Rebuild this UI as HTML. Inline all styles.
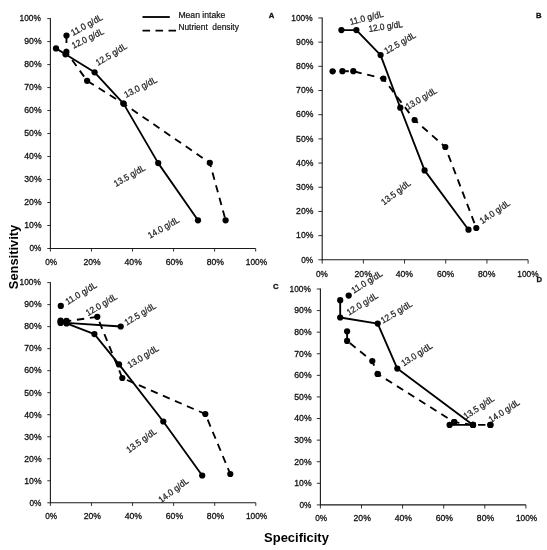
<!DOCTYPE html>
<html><head><meta charset="utf-8"><title>Sensitivity vs Specificity</title>
<style>
html,body{margin:0;padding:0;background:#fff;}
svg{display:block;font-family:"Liberation Sans", sans-serif;}
.ax{fill:none;stroke:#1a1a1a;stroke-width:1.1;}
.tk{fill:none;stroke:#1a1a1a;stroke-width:0.9;}
.sl{fill:none;stroke:#000;stroke-width:1.85;stroke-linejoin:round;}
.dl{fill:none;stroke:#000;stroke-width:1.85;stroke-dasharray:7.4 5.7;}
.tl{font-size:9.0px;fill:#111;stroke:#111;stroke-width:0.3;}
.lb{font-size:9.0px;fill:#222;stroke:#222;stroke-width:0.25;}
.lg{font-size:8.8px;fill:#111;stroke:#111;stroke-width:0.2;}
.pn{font-size:7.7px;font-weight:bold;fill:#111;stroke:#111;stroke-width:0.3;}
.at{font-size:12.6px;font-weight:bold;fill:#000;}
circle{fill:#000;}
</style></head>
<body>
<svg width="547" height="550" viewBox="0 0 547 550">
<rect width="547" height="550" fill="#fff"/>
<g id="panelA">
<path d="M50.4 18.20V248.5H255.7" class="ax"/>
<path d="M47.30 248.50H50.4M47.30 225.51H50.4M47.30 202.52H50.4M47.30 179.53H50.4M47.30 156.54H50.4M47.30 133.55H50.4M47.30 110.56H50.4M47.30 87.57H50.4M47.30 64.58H50.4M47.30 41.59H50.4M47.30 18.60H50.4M50.40 248.5V251.60M91.46 248.5V251.60M132.52 248.5V251.60M173.58 248.5V251.60M214.64 248.5V251.60M255.70 248.5V251.60" class="tk"/>
<text x="41.30" y="251.30" text-anchor="end" class="tl" textLength="11.9" lengthAdjust="spacingAndGlyphs">0%</text>
<text x="41.60" y="228.31" text-anchor="end" class="tl" textLength="17.3" lengthAdjust="spacingAndGlyphs">10%</text>
<text x="41.60" y="205.32" text-anchor="end" class="tl" textLength="17.3" lengthAdjust="spacingAndGlyphs">20%</text>
<text x="41.60" y="182.33" text-anchor="end" class="tl" textLength="17.3" lengthAdjust="spacingAndGlyphs">30%</text>
<text x="41.60" y="159.34" text-anchor="end" class="tl" textLength="17.3" lengthAdjust="spacingAndGlyphs">40%</text>
<text x="41.60" y="136.35" text-anchor="end" class="tl" textLength="17.3" lengthAdjust="spacingAndGlyphs">50%</text>
<text x="41.60" y="113.36" text-anchor="end" class="tl" textLength="17.3" lengthAdjust="spacingAndGlyphs">60%</text>
<text x="41.60" y="90.37" text-anchor="end" class="tl" textLength="17.3" lengthAdjust="spacingAndGlyphs">70%</text>
<text x="41.60" y="67.38" text-anchor="end" class="tl" textLength="17.3" lengthAdjust="spacingAndGlyphs">80%</text>
<text x="41.60" y="44.39" text-anchor="end" class="tl" textLength="17.3" lengthAdjust="spacingAndGlyphs">90%</text>
<text x="40.80" y="21.40" text-anchor="end" class="tl" textLength="21.3" lengthAdjust="spacingAndGlyphs">100%</text>
<text x="51.10" y="264.55" text-anchor="middle" class="tl" textLength="11.9" lengthAdjust="spacingAndGlyphs">0%</text>
<text x="92.16" y="264.55" text-anchor="middle" class="tl" textLength="17.3" lengthAdjust="spacingAndGlyphs">20%</text>
<text x="133.22" y="264.55" text-anchor="middle" class="tl" textLength="17.3" lengthAdjust="spacingAndGlyphs">40%</text>
<text x="174.28" y="264.55" text-anchor="middle" class="tl" textLength="17.3" lengthAdjust="spacingAndGlyphs">60%</text>
<text x="215.34" y="264.55" text-anchor="middle" class="tl" textLength="17.3" lengthAdjust="spacingAndGlyphs">80%</text>
<text x="256.40" y="264.55" text-anchor="middle" class="tl" textLength="21.3" lengthAdjust="spacingAndGlyphs">100%</text>
<path d="M66.5 35.6L66.4 51.9L87.1 80.8L123.5 103.6L209.8 162.8L225.6 220.3" class="dl"/>
<path d="M56.0 48.4L65.5 54.3L94.6 72.3L123.5 103.6L158.2 163.1L198.0 220.3" class="sl"/>
<circle cx="56.0" cy="48.4" r="3.12"/>
<circle cx="65.5" cy="54.3" r="3.12"/>
<circle cx="94.6" cy="72.3" r="3.12"/>
<circle cx="123.5" cy="103.6" r="3.12"/>
<circle cx="158.2" cy="163.1" r="3.12"/>
<circle cx="198.0" cy="220.3" r="3.12"/>
<circle cx="66.5" cy="35.6" r="3.12"/>
<circle cx="66.4" cy="51.9" r="3.12"/>
<circle cx="87.1" cy="80.8" r="3.12"/>
<circle cx="123.5" cy="103.6" r="3.12"/>
<circle cx="209.8" cy="162.8" r="3.12"/>
<circle cx="225.6" cy="220.3" r="3.12"/>
<text transform="translate(73.1 36.0) rotate(-29)" class="lb" textLength="34.6" lengthAdjust="spacingAndGlyphs">11.0 g/dL</text>
<text transform="translate(73.5 48.7) rotate(-26)" class="lb" textLength="34.6" lengthAdjust="spacingAndGlyphs">12.0 g/dL</text>
<text transform="translate(98.1 65.9) rotate(-31.2)" class="lb" textLength="34.6" lengthAdjust="spacingAndGlyphs">12.5 g/dL</text>
<text transform="translate(125.9 98.0) rotate(-27)" class="lb" textLength="35.8" lengthAdjust="spacingAndGlyphs">13.0 g/dL</text>
<text transform="translate(116.1 186.9) rotate(-30)" class="lb" textLength="34.6" lengthAdjust="spacingAndGlyphs">13.5 g/dL</text>
<text transform="translate(149.9 238.7) rotate(-29.5)" class="lb" textLength="34.6" lengthAdjust="spacingAndGlyphs">14.0 g/dL</text>
<path d="M142.5 17H169.8" class="sl"/>
<path d="M142.5 30.6H176" class="dl" style="stroke-dasharray:7.6 5.4"/>
<text x="178.4" y="17.9" class="lg" textLength="47" lengthAdjust="spacingAndGlyphs">Mean intake</text>
<text x="178.4" y="29.5" class="lg" textLength="60.5" lengthAdjust="spacingAndGlyphs" xml:space="preserve">Nutrient  density</text>
<text x="268.8" y="17.9" class="pn">A</text>
</g>
<g id="panelB">
<path d="M322.2 17.55V259.8H528.1" class="ax"/>
<path d="M318.40 259.80H322.2M318.40 235.62H322.2M318.40 211.43H322.2M318.40 187.25H322.2M318.40 163.06H322.2M318.40 138.88H322.2M318.40 114.69H322.2M318.40 90.50H322.2M318.40 66.32H322.2M318.40 42.13H322.2M318.40 17.95H322.2M322.20 259.8V263.60M363.38 259.8V263.60M404.56 259.8V263.60M445.74 259.8V263.60M486.92 259.8V263.60M528.10 259.8V263.60" class="tk"/>
<text x="313.10" y="262.60" text-anchor="end" class="tl" textLength="11.9" lengthAdjust="spacingAndGlyphs">0%</text>
<text x="313.40" y="238.42" text-anchor="end" class="tl" textLength="17.3" lengthAdjust="spacingAndGlyphs">10%</text>
<text x="313.40" y="214.23" text-anchor="end" class="tl" textLength="17.3" lengthAdjust="spacingAndGlyphs">20%</text>
<text x="313.40" y="190.05" text-anchor="end" class="tl" textLength="17.3" lengthAdjust="spacingAndGlyphs">30%</text>
<text x="313.40" y="165.86" text-anchor="end" class="tl" textLength="17.3" lengthAdjust="spacingAndGlyphs">40%</text>
<text x="313.40" y="141.68" text-anchor="end" class="tl" textLength="17.3" lengthAdjust="spacingAndGlyphs">50%</text>
<text x="313.40" y="117.49" text-anchor="end" class="tl" textLength="17.3" lengthAdjust="spacingAndGlyphs">60%</text>
<text x="313.40" y="93.30" text-anchor="end" class="tl" textLength="17.3" lengthAdjust="spacingAndGlyphs">70%</text>
<text x="313.40" y="69.12" text-anchor="end" class="tl" textLength="17.3" lengthAdjust="spacingAndGlyphs">80%</text>
<text x="313.40" y="44.93" text-anchor="end" class="tl" textLength="17.3" lengthAdjust="spacingAndGlyphs">90%</text>
<text x="312.60" y="20.75" text-anchor="end" class="tl" textLength="21.3" lengthAdjust="spacingAndGlyphs">100%</text>
<text x="322.00" y="276.85" text-anchor="middle" class="tl" textLength="11.9" lengthAdjust="spacingAndGlyphs">0%</text>
<text x="363.18" y="276.85" text-anchor="middle" class="tl" textLength="17.3" lengthAdjust="spacingAndGlyphs">20%</text>
<text x="404.36" y="276.85" text-anchor="middle" class="tl" textLength="17.3" lengthAdjust="spacingAndGlyphs">40%</text>
<text x="445.54" y="276.85" text-anchor="middle" class="tl" textLength="17.3" lengthAdjust="spacingAndGlyphs">60%</text>
<text x="486.72" y="276.85" text-anchor="middle" class="tl" textLength="17.3" lengthAdjust="spacingAndGlyphs">80%</text>
<text x="527.90" y="276.85" text-anchor="middle" class="tl" textLength="21.3" lengthAdjust="spacingAndGlyphs">100%</text>
<path d="M332.6 71.3L342.4 71.2L353.3 71.2L383.4 78.7L414.6 120.0L445.3 147.0L476.3 228.0" class="dl" stroke-dashoffset="4.3"/>
<path d="M341.4 30.1L356.4 30.1L380.6 55.1L400.3 107.7L424.6 170.4L468.5 229.7" class="sl"/>
<circle cx="341.4" cy="30.1" r="3.12"/>
<circle cx="356.4" cy="30.1" r="3.12"/>
<circle cx="380.6" cy="55.1" r="3.12"/>
<circle cx="400.3" cy="107.7" r="3.12"/>
<circle cx="424.6" cy="170.4" r="3.12"/>
<circle cx="468.5" cy="229.7" r="3.12"/>
<circle cx="332.6" cy="71.3" r="3.12"/>
<circle cx="342.4" cy="71.2" r="3.12"/>
<circle cx="353.3" cy="71.2" r="3.12"/>
<circle cx="383.4" cy="78.7" r="3.12"/>
<circle cx="414.6" cy="120.0" r="3.12"/>
<circle cx="445.3" cy="147.0" r="3.12"/>
<circle cx="476.3" cy="228.0" r="3.12"/>
<text transform="translate(350.5 25.1) rotate(-14.3)" class="lb" textLength="34.6" lengthAdjust="spacingAndGlyphs">11.0 g/dL</text>
<text transform="translate(368.9 31.9) rotate(-8)" class="lb" textLength="34.6" lengthAdjust="spacingAndGlyphs">12.0 g/dL</text>
<text transform="translate(386.6 54.2) rotate(-30)" class="lb" textLength="34.6" lengthAdjust="spacingAndGlyphs">12.5 g/dL</text>
<text transform="translate(407.9 109.9) rotate(-30.4)" class="lb" textLength="34.6" lengthAdjust="spacingAndGlyphs">13.0 g/dL</text>
<text transform="translate(384.0 205.4) rotate(-37.5)" class="lb" textLength="34.6" lengthAdjust="spacingAndGlyphs">13.5 g/dL</text>
<text transform="translate(482.3 224.2) rotate(-34.7)" class="lb" textLength="34.6" lengthAdjust="spacingAndGlyphs">14.0 g/dL</text>
<text x="536.1" y="18.1" class="pn">B</text>
</g>
<g id="panelC">
<path d="M50.4 282.20V502.8H255.8" class="ax"/>
<path d="M47.30 502.80H50.4M47.30 480.78H50.4M47.30 458.76H50.4M47.30 436.74H50.4M47.30 414.72H50.4M47.30 392.70H50.4M47.30 370.68H50.4M47.30 348.66H50.4M47.30 326.64H50.4M47.30 304.62H50.4M47.30 282.60H50.4M50.40 502.8V505.90M91.48 502.8V505.90M132.56 502.8V505.90M173.64 502.8V505.90M214.72 502.8V505.90M255.80 502.8V505.90" class="tk"/>
<text x="41.30" y="505.60" text-anchor="end" class="tl" textLength="11.9" lengthAdjust="spacingAndGlyphs">0%</text>
<text x="41.60" y="483.58" text-anchor="end" class="tl" textLength="17.3" lengthAdjust="spacingAndGlyphs">10%</text>
<text x="41.60" y="461.56" text-anchor="end" class="tl" textLength="17.3" lengthAdjust="spacingAndGlyphs">20%</text>
<text x="41.60" y="439.54" text-anchor="end" class="tl" textLength="17.3" lengthAdjust="spacingAndGlyphs">30%</text>
<text x="41.60" y="417.52" text-anchor="end" class="tl" textLength="17.3" lengthAdjust="spacingAndGlyphs">40%</text>
<text x="41.60" y="395.50" text-anchor="end" class="tl" textLength="17.3" lengthAdjust="spacingAndGlyphs">50%</text>
<text x="41.60" y="373.48" text-anchor="end" class="tl" textLength="17.3" lengthAdjust="spacingAndGlyphs">60%</text>
<text x="41.60" y="351.46" text-anchor="end" class="tl" textLength="17.3" lengthAdjust="spacingAndGlyphs">70%</text>
<text x="41.60" y="329.44" text-anchor="end" class="tl" textLength="17.3" lengthAdjust="spacingAndGlyphs">80%</text>
<text x="41.60" y="307.42" text-anchor="end" class="tl" textLength="17.3" lengthAdjust="spacingAndGlyphs">90%</text>
<text x="40.80" y="285.40" text-anchor="end" class="tl" textLength="21.3" lengthAdjust="spacingAndGlyphs">100%</text>
<text x="51.20" y="518.75" text-anchor="middle" class="tl" textLength="11.9" lengthAdjust="spacingAndGlyphs">0%</text>
<text x="92.28" y="518.75" text-anchor="middle" class="tl" textLength="17.3" lengthAdjust="spacingAndGlyphs">20%</text>
<text x="133.36" y="518.75" text-anchor="middle" class="tl" textLength="17.3" lengthAdjust="spacingAndGlyphs">40%</text>
<text x="174.44" y="518.75" text-anchor="middle" class="tl" textLength="17.3" lengthAdjust="spacingAndGlyphs">60%</text>
<text x="215.52" y="518.75" text-anchor="middle" class="tl" textLength="17.3" lengthAdjust="spacingAndGlyphs">80%</text>
<text x="256.60" y="518.75" text-anchor="middle" class="tl" textLength="21.3" lengthAdjust="spacingAndGlyphs">100%</text>
<path d="M66.5 321.3L97.3 316.8L122.3 378.0L205.3 414.0L230.3 474.0" class="dl" stroke-dashoffset="2.6"/>
<path d="M60.6 320.7L66.5 320.8L66.5 323.4L94.4 334.1L119.0 364.4L163.3 421.5L202.2 475.5" class="sl"/>
<path d="M60.6 323.0L66.5 322.8L120.7 326.5" class="sl"/>
<circle cx="60.6" cy="320.7" r="3.12"/>
<circle cx="66.5" cy="320.8" r="3.12"/>
<circle cx="66.5" cy="323.4" r="3.12"/>
<circle cx="94.4" cy="334.1" r="3.12"/>
<circle cx="119.0" cy="364.4" r="3.12"/>
<circle cx="163.3" cy="421.5" r="3.12"/>
<circle cx="202.2" cy="475.5" r="3.12"/>
<circle cx="60.6" cy="323.0" r="3.12"/>
<circle cx="66.5" cy="322.8" r="3.12"/>
<circle cx="120.7" cy="326.5" r="3.12"/>
<circle cx="66.5" cy="321.3" r="3.12"/>
<circle cx="97.3" cy="316.8" r="3.12"/>
<circle cx="122.3" cy="378.0" r="3.12"/>
<circle cx="205.3" cy="414.0" r="3.12"/>
<circle cx="230.3" cy="474.0" r="3.12"/>
<circle cx="60.6" cy="321.8" r="3.12"/>
<circle cx="60.8" cy="305.9" r="3.12"/>
<text transform="translate(67.8 305.0) rotate(-31.6)" class="lb" textLength="35" lengthAdjust="spacingAndGlyphs">11.0 g/dL</text>
<text transform="translate(88.0 316.2) rotate(-30.7)" class="lb" textLength="35" lengthAdjust="spacingAndGlyphs">12.0 g/dL</text>
<text transform="translate(126.8 325.7) rotate(-31.3)" class="lb" textLength="35" lengthAdjust="spacingAndGlyphs">12.5 g/dL</text>
<text transform="translate(129.7 368.3) rotate(-31.6)" class="lb" textLength="35" lengthAdjust="spacingAndGlyphs">13.0 g/dL</text>
<text transform="translate(128.9 453.2) rotate(-35.7)" class="lb" textLength="35" lengthAdjust="spacingAndGlyphs">13.5 g/dL</text>
<text transform="translate(161.2 503.2) rotate(-36.7)" class="lb" textLength="35" lengthAdjust="spacingAndGlyphs">14.0 g/dL</text>
<text x="273.1" y="288.5" class="pn">C</text>
</g>
<g id="panelD">
<path d="M320.4 288.60V504.9H525.9" class="ax"/>
<path d="M316.80 504.90H320.4M316.80 483.31H320.4M316.80 461.72H320.4M316.80 440.13H320.4M316.80 418.54H320.4M316.80 396.95H320.4M316.80 375.36H320.4M316.80 353.77H320.4M316.80 332.18H320.4M316.80 310.59H320.4M316.80 289.00H320.4M320.40 504.9V508.50M361.50 504.9V508.50M402.60 504.9V508.50M443.70 504.9V508.50M484.80 504.9V508.50M525.90 504.9V508.50" class="tk"/>
<text x="311.30" y="507.70" text-anchor="end" class="tl" textLength="11.9" lengthAdjust="spacingAndGlyphs">0%</text>
<text x="311.60" y="486.11" text-anchor="end" class="tl" textLength="17.3" lengthAdjust="spacingAndGlyphs">10%</text>
<text x="311.60" y="464.52" text-anchor="end" class="tl" textLength="17.3" lengthAdjust="spacingAndGlyphs">20%</text>
<text x="311.60" y="442.93" text-anchor="end" class="tl" textLength="17.3" lengthAdjust="spacingAndGlyphs">30%</text>
<text x="311.60" y="421.34" text-anchor="end" class="tl" textLength="17.3" lengthAdjust="spacingAndGlyphs">40%</text>
<text x="311.60" y="399.75" text-anchor="end" class="tl" textLength="17.3" lengthAdjust="spacingAndGlyphs">50%</text>
<text x="311.60" y="378.16" text-anchor="end" class="tl" textLength="17.3" lengthAdjust="spacingAndGlyphs">60%</text>
<text x="311.60" y="356.57" text-anchor="end" class="tl" textLength="17.3" lengthAdjust="spacingAndGlyphs">70%</text>
<text x="311.60" y="334.98" text-anchor="end" class="tl" textLength="17.3" lengthAdjust="spacingAndGlyphs">80%</text>
<text x="311.60" y="313.39" text-anchor="end" class="tl" textLength="17.3" lengthAdjust="spacingAndGlyphs">90%</text>
<text x="310.80" y="291.80" text-anchor="end" class="tl" textLength="21.3" lengthAdjust="spacingAndGlyphs">100%</text>
<text x="321.10" y="521.45" text-anchor="middle" class="tl" textLength="11.9" lengthAdjust="spacingAndGlyphs">0%</text>
<text x="362.20" y="521.45" text-anchor="middle" class="tl" textLength="17.3" lengthAdjust="spacingAndGlyphs">20%</text>
<text x="403.30" y="521.45" text-anchor="middle" class="tl" textLength="17.3" lengthAdjust="spacingAndGlyphs">40%</text>
<text x="444.40" y="521.45" text-anchor="middle" class="tl" textLength="17.3" lengthAdjust="spacingAndGlyphs">60%</text>
<text x="485.50" y="521.45" text-anchor="middle" class="tl" textLength="17.3" lengthAdjust="spacingAndGlyphs">80%</text>
<text x="526.60" y="521.45" text-anchor="middle" class="tl" textLength="21.3" lengthAdjust="spacingAndGlyphs">100%</text>
<path d="M347.1 331.3L347.1 340.9L372.3 361.1L377.7 374.0L454.2 422.1L473.0 424.9L490.4 424.9" class="dl"/>
<path d="M340.2 300.2L340.2 317.5L377.7 323.6L397.3 368.6L473.0 424.9L449.6 424.9" class="sl"/>
<circle cx="340.2" cy="300.2" r="3.12"/>
<circle cx="340.2" cy="317.5" r="3.12"/>
<circle cx="377.7" cy="323.6" r="3.12"/>
<circle cx="397.3" cy="368.6" r="3.12"/>
<circle cx="473.0" cy="424.9" r="3.12"/>
<circle cx="449.6" cy="424.9" r="3.12"/>
<circle cx="347.1" cy="331.3" r="3.12"/>
<circle cx="347.1" cy="340.9" r="3.12"/>
<circle cx="372.3" cy="361.1" r="3.12"/>
<circle cx="377.7" cy="374.0" r="3.12"/>
<circle cx="454.2" cy="422.1" r="3.12"/>
<circle cx="473.0" cy="424.9" r="3.12"/>
<circle cx="490.4" cy="424.9" r="3.12"/>
<circle cx="377.7" cy="374.0" r="3.12"/>
<circle cx="454.2" cy="422.1" r="3.12"/>
<circle cx="473.0" cy="424.9" r="3.12"/>
<circle cx="490.4" cy="424.9" r="3.12"/>
<circle cx="348.7" cy="295.6" r="3.12"/>
<text transform="translate(353.7 293.8) rotate(-32.2)" class="lb" textLength="35" lengthAdjust="spacingAndGlyphs">11.0 g/dL</text>
<text transform="translate(348.9 315.7) rotate(-31.6)" class="lb" textLength="35" lengthAdjust="spacingAndGlyphs">12.0 g/dL</text>
<text transform="translate(383.1 323.8) rotate(-31.3)" class="lb" textLength="35" lengthAdjust="spacingAndGlyphs">12.5 g/dL</text>
<text transform="translate(403.7 366.6) rotate(-33)" class="lb" textLength="35" lengthAdjust="spacingAndGlyphs">13.0 g/dL</text>
<text transform="translate(466.1 419.6) rotate(-34)" class="lb" textLength="35" lengthAdjust="spacingAndGlyphs">13.5 g/dL</text>
<text transform="translate(491.1 423.0) rotate(-32.8)" class="lb" textLength="35" lengthAdjust="spacingAndGlyphs">14.0 g/dL</text>
<text x="536.4" y="282" class="pn">D</text>
</g>
<text transform="translate(17.6 289.2) rotate(-90)" class="at" textLength="64.4" lengthAdjust="spacingAndGlyphs">Sensitivity</text>
<text x="264.1" y="541.7" class="at" textLength="64.8" lengthAdjust="spacingAndGlyphs">Specificity</text>
</svg>
</body></html>
